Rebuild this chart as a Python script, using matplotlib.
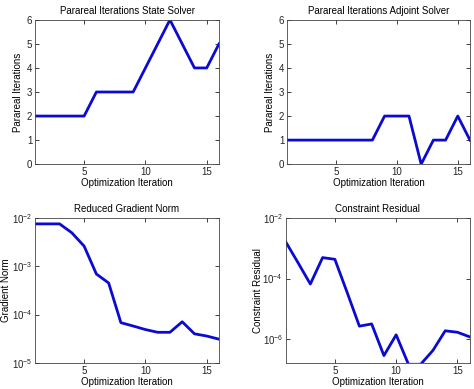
import numpy as np
import matplotlib
matplotlib.use("Agg")
import matplotlib.pyplot as plt
from matplotlib.ticker import FixedLocator, LogFormatterMathtext, NullLocator

# data
iters = np.arange(1, 17)
state_its = [2, 2, 2, 2, 2, 3, 3, 3, 3, 4, 5, 6, 5, 4, 4, 5]
adjoint_its = [1, 1, 1, 1, 1, 1, 1, 1, 2, 2, 2, 0, 1, 1, 2, 1]
grad_norm = [7.5e-3, 7.5e-3, 7.5e-3, 4.9e-3, 2.6e-3, 6.9e-4, 4.5e-4, 6.8e-5,
             5.8e-5, 4.9e-5, 4.3e-5, 4.3e-5, 7.1e-5, 4.0e-5, 3.6e-5, 3.1e-5]
constr_res = [1.6e-3, 3.3e-4, 6.6e-5, 4.9e-4, 4.3e-4, 3.5e-5, 2.7e-6, 3.2e-6,
              2.9e-7, 1.4e-6, 1.5e-7, 1.5e-7, 4.3e-7, 1.9e-6, 1.7e-6, 1.2e-6]

plt.rcParams['font.family'] = ['Liberation Sans', 'DejaVu Sans']
plt.rcParams['font.size'] = 7
plt.rcParams['mathtext.fontset'] = 'custom'
plt.rcParams['mathtext.rm'] = 'Liberation Sans'

fig = plt.figure(figsize=(4.74, 3.89), dpi=100)
line_col = '#0a0ad2'
fs = 7

def style(ax, ylab_x):
    ax.tick_params(direction='in', top=True, right=True, length=3, width=0.6,
                   labelsize=fs, pad=2, colors='#222222')
    for s in ax.spines.values():
        s.set_linewidth(0.6)
        s.set_color('#444444')
    ax.set_xlim(1, 16)
    ax.set_xticks([5, 10, 15])
    ax.set_xlabel("Optimization Iteration", fontsize=fs, labelpad=1)
    ax.yaxis.set_label_coords(ylab_x, 0.5)

# top left
ax1 = fig.add_axes([0.074, 0.578, 0.388, 0.371])
ax1.plot(iters, state_its, color=line_col, lw=2)
ax1.set_ylim(0, 6)
ax1.set_yticks(range(7))
ax1.set_ylabel("Parareal Iterations", fontsize=fs)
ax1.set_title("Parareal Iterations State Solver", fontsize=fs, pad=4)
style(ax1, -0.065)

# top right
ax2 = fig.add_axes([0.6055, 0.578, 0.386, 0.371])
ax2.plot(iters, adjoint_its, color=line_col, lw=2)
ax2.set_ylim(0, 6)
ax2.set_yticks(range(7))
ax2.set_ylabel("Parareal Iterations", fontsize=fs)
ax2.set_title("Parareal Iterations Adjoint Solver", fontsize=fs, pad=4)
style(ax2, -0.065)

# bottom left
ax3 = fig.add_axes([0.074, 0.067, 0.388, 0.373])
ax3.semilogy(iters, grad_norm, color=line_col, lw=2)
ax3.set_ylim(1e-5, 1e-2)
ax3.yaxis.set_major_locator(FixedLocator([1e-5, 1e-4, 1e-3, 1e-2]))
ax3.yaxis.set_major_formatter(LogFormatterMathtext())
ax3.yaxis.set_minor_locator(NullLocator())
ax3.set_ylabel("Gradient Norm", fontsize=fs)
ax3.set_title("Reduced Gradient Norm", fontsize=fs, pad=4)
style(ax3, -0.13)

# bottom right
ax4 = fig.add_axes([0.603, 0.067, 0.388, 0.373])
ax4.semilogy(iters, constr_res, color=line_col, lw=2)
ax4.set_ylim(1.66e-7, 1e-2)
ax4.yaxis.set_major_locator(FixedLocator([1e-6, 1e-4, 1e-2]))
ax4.yaxis.set_major_formatter(LogFormatterMathtext())
ax4.yaxis.set_minor_locator(NullLocator())
ax4.set_ylabel("Constraint Residual", fontsize=fs)
ax4.set_title("Constraint Residual", fontsize=fs, pad=4)
style(ax4, -0.125)

fig.savefig("out.png", dpi=100)
